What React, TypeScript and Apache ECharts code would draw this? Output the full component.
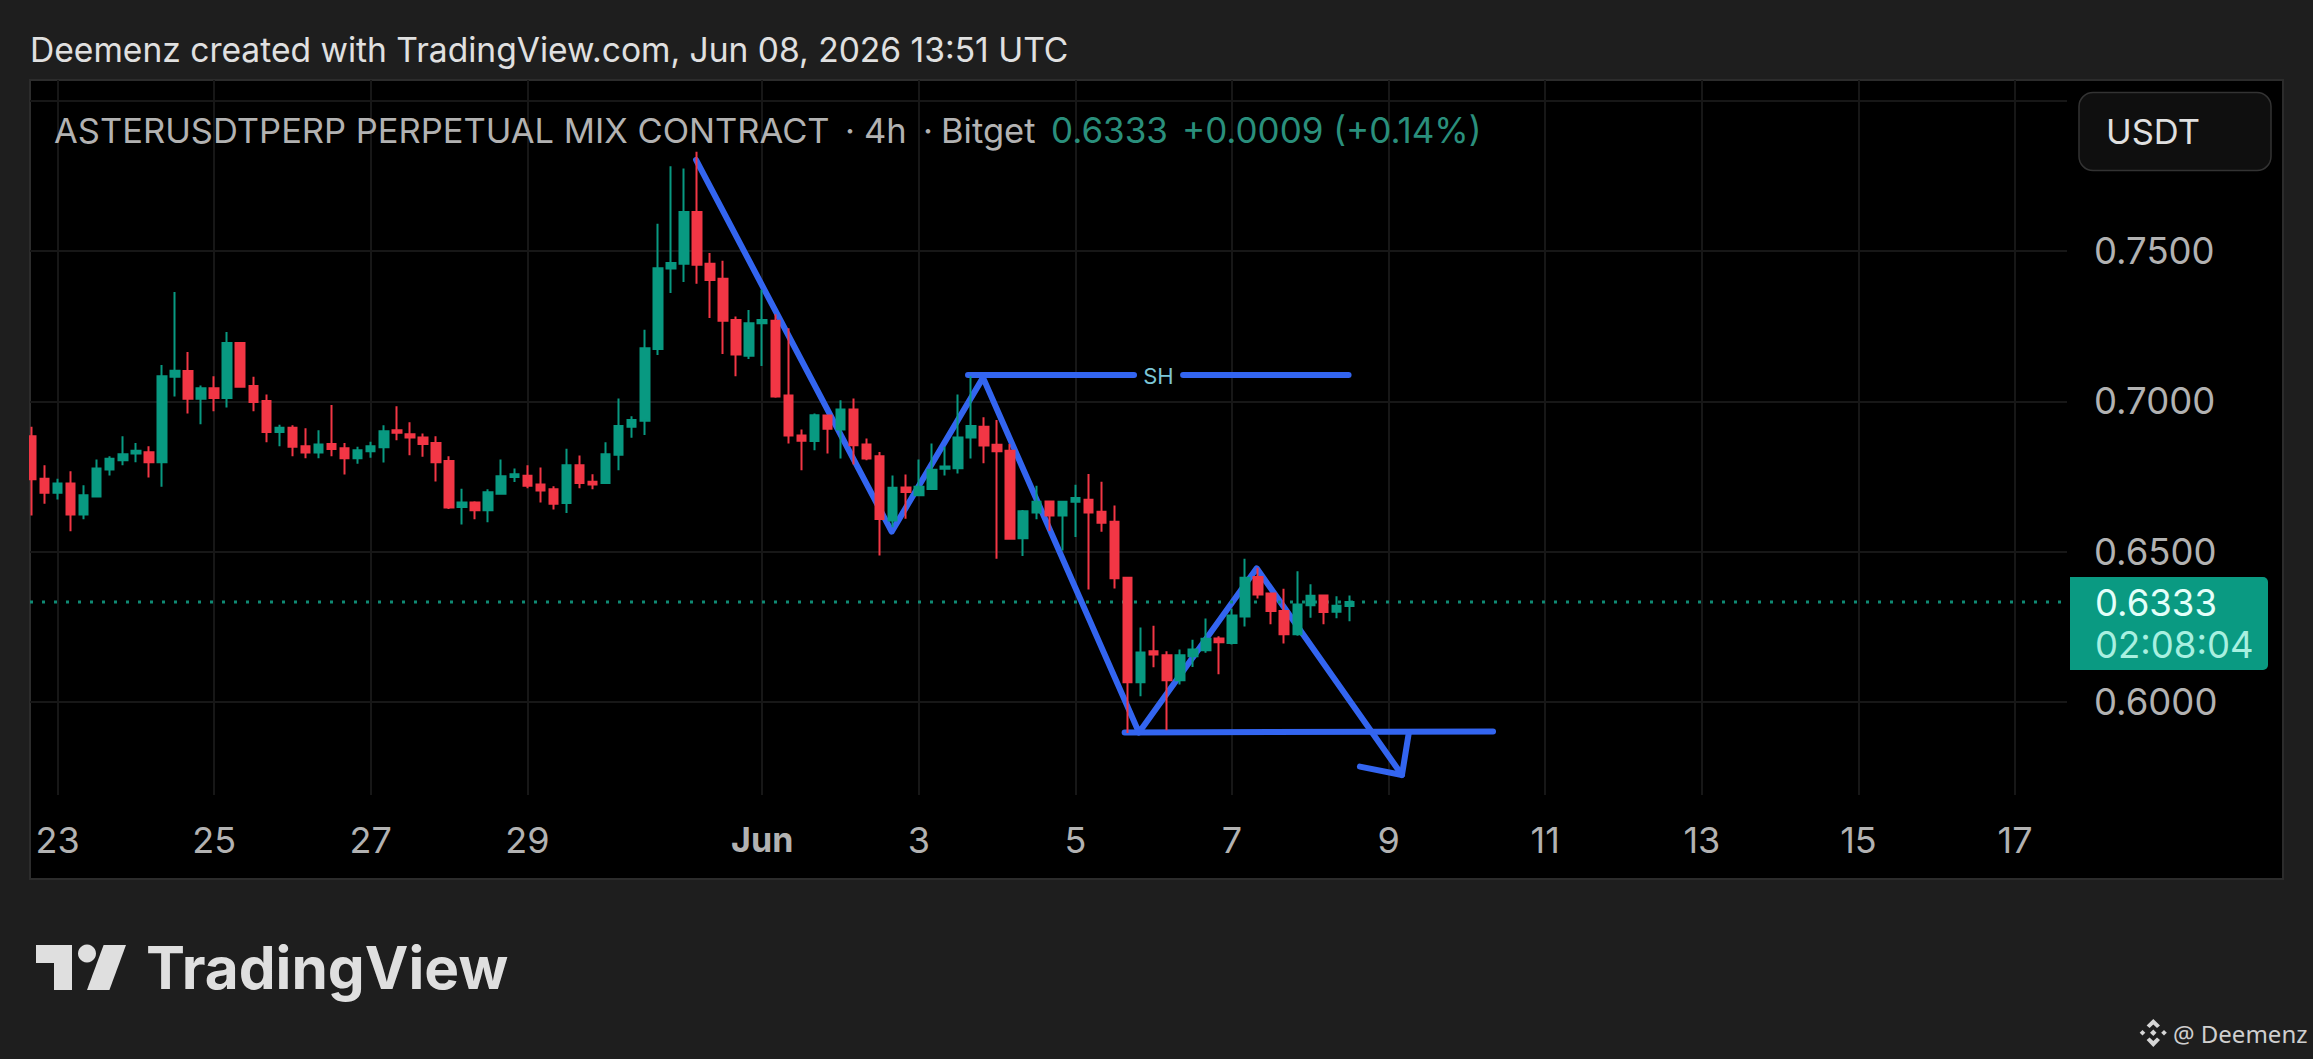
import React, { useEffect, useRef } from "react";
import * as echarts from "echarts";

const opens = [
  0.6884, 0.6743, 0.6696, 0.6727, 0.6624, 0.6684, 0.6774, 0.6804, 0.6827, 0.6831,
  0.6798, 0.7082, 0.7101, 0.7009, 0.7044, 0.7011, 0.7194, 0.7051, 0.7001, 0.6898,
  0.6912, 0.6851, 0.683, 0.6858, 0.6844, 0.6811, 0.6834, 0.6848, 0.6904, 0.6891,
  0.688, 0.6862, 0.6802, 0.6649, 0.6664, 0.6638, 0.6693, 0.6749, 0.6753, 0.6724,
  0.6708, 0.6662, 0.6788, 0.6733, 0.6729, 0.6823, 0.6916, 0.6936, 0.7174, 0.7442,
  0.7458, 0.763, 0.7458, 0.7408, 0.7271, 0.7152, 0.726, 0.7268, 0.702, 0.6887,
  0.6868, 0.6953, 0.6907, 0.6973, 0.6857, 0.6818, 0.6604, 0.6714, 0.6688, 0.6709,
  0.6776, 0.6778, 0.688, 0.6916, 0.6856, 0.6836, 0.6545, 0.6631, 0.6667, 0.6621,
  0.6666, 0.6673, 0.6633, 0.66, 0.6414, 0.6066, 0.6169, 0.6156, 0.6073, 0.6153,
  0.6173, 0.6212, 0.6197, 0.6285, 0.6416, 0.6361, 0.6303, 0.6226, 0.6322, 0.6355,
  0.6301, 0.632,
];
const closes = [
  0.6741, 0.6696, 0.6727, 0.6624, 0.6688, 0.6777, 0.6809, 0.6824, 0.6836, 0.6798,
  0.7084, 0.7102, 0.7009, 0.7044, 0.7011, 0.7194, 0.7049, 0.6998, 0.6898, 0.6912,
  0.6849, 0.683, 0.6857, 0.6842, 0.6811, 0.6838, 0.6851, 0.6901, 0.6896, 0.688,
  0.6858, 0.6798, 0.6647, 0.6664, 0.6638, 0.6698, 0.6751, 0.6758, 0.672, 0.6704,
  0.666, 0.6788, 0.6729, 0.6724, 0.6824, 0.6918, 0.6938, 0.7177, 0.7443, 0.746,
  0.763, 0.7454, 0.7404, 0.7268, 0.7156, 0.726, 0.7271, 0.7016, 0.6887, 0.6869,
  0.6954, 0.6909, 0.6973, 0.6854, 0.681, 0.6609, 0.6713, 0.6699, 0.6716, 0.6773,
  0.6784, 0.688, 0.6918, 0.6853, 0.6834, 0.6543, 0.6635, 0.6666, 0.6621, 0.6666,
  0.6679, 0.6631, 0.6597, 0.6412, 0.6066, 0.6165, 0.6159, 0.6073, 0.6156, 0.6175,
  0.6211, 0.6199, 0.6288, 0.6414, 0.6358, 0.6303, 0.6226, 0.6325, 0.6354, 0.63,
  0.6321, 0.6333,
];
const lows = [
  0.6621, 0.666, 0.6674, 0.6568, 0.6608, 0.6682, 0.6754, 0.6788, 0.6798, 0.6747,
  0.6716, 0.7016, 0.696, 0.6924, 0.6967, 0.698, 0.7049, 0.6967, 0.6864, 0.6851,
  0.6818, 0.6811, 0.6811, 0.6818, 0.6757, 0.6793, 0.6813, 0.6797, 0.6871, 0.6821,
  0.6816, 0.6734, 0.6642, 0.6591, 0.6608, 0.6598, 0.6691, 0.6732, 0.6711, 0.6664,
  0.6641, 0.6629, 0.6711, 0.6708, 0.6727, 0.6771, 0.6879, 0.6888, 0.7154, 0.736,
  0.7397, 0.7391, 0.7277, 0.7158, 0.7084, 0.7141, 0.7118, 0.7012, 0.686, 0.6771,
  0.6838, 0.6827, 0.681, 0.679, 0.6804, 0.6488, 0.6582, 0.661, 0.6688, 0.6709,
  0.6754, 0.676, 0.681, 0.6794, 0.6477, 0.6541, 0.6486, 0.6608, 0.6569, 0.6504,
  0.6549, 0.6375, 0.6567, 0.6378, 0.5898, 0.602, 0.6116, 0.5907, 0.6059, 0.6117,
  0.6164, 0.6093, 0.6192, 0.6252, 0.6345, 0.6259, 0.6195, 0.6221, 0.6281, 0.6259,
  0.6279, 0.6269,
];
const highs = [
  0.6916, 0.6788, 0.6743, 0.6768, 0.6721, 0.6807, 0.6818, 0.6884, 0.6862, 0.6851,
  0.7121, 0.7364, 0.7164, 0.7053, 0.7084, 0.7231, 0.7194, 0.7082, 0.7023, 0.6922,
  0.6921, 0.6911, 0.6904, 0.6988, 0.6862, 0.6849, 0.6866, 0.6921, 0.6984, 0.6931,
  0.6893, 0.6884, 0.6818, 0.671, 0.6668, 0.6708, 0.6807, 0.6777, 0.6788, 0.678,
  0.6718, 0.6843, 0.682, 0.6758, 0.6864, 0.701, 0.6951, 0.7238, 0.7591, 0.7782,
  0.7774, 0.783, 0.7493, 0.7468, 0.7282, 0.7304, 0.7371, 0.729, 0.7243, 0.6907,
  0.696, 0.6954, 0.7004, 0.701, 0.6877, 0.6832, 0.6754, 0.6757, 0.6807, 0.686,
  0.6849, 0.7023, 0.7084, 0.6947, 0.6938, 0.6858, 0.6639, 0.672, 0.667, 0.6666,
  0.6723, 0.6759, 0.6733, 0.6654, 0.6414, 0.6248, 0.6254, 0.6169, 0.6175, 0.6208,
  0.6278, 0.6219, 0.6311, 0.6477, 0.6447, 0.6363, 0.6377, 0.6435, 0.6392, 0.6357,
  0.6352, 0.6355,
];

const tickSlots = [2, 14, 26, 38, 56, 68, 80, 92, 104, 116, 128, 140, 152];
const tickLabels = ["23", "25", "27", "29", "Jun", "3", "5", "7", "9", "11", "13", "15", "17"];
const priceTicks = [0.6, 0.65, 0.7, 0.75, 0.8];
const priceLabels = [0.6, 0.65, 0.7, 0.75];
const lastPrice = 0.6333;
const priceMin = 0.56915;
const priceMax = 0.80685;
const slotCount = 157;
const slotMin = -0.107;
const slotMax = 155.98;

// drawings: [candle slot, price]
const zigzag = [[50.93, 0.7803], [65.92, 0.6567], [72.92, 0.7079], [84.87, 0.5899], [93.89, 0.6445], [105.02, 0.5758]];
const arrowHead = [[101.8, 0.5786], [105.02, 0.5758], [105.55, 0.5899]];
const shLeft = [[71.77, 0.7088], [84.49, 0.7088]];
const shRight = [[88.25, 0.7088], [100.93, 0.7088]];
const floorLine = [[83.77, 0.5899], [112.0, 0.5903]];

const GREEN = "#089981";
const RED = "#f23645";
const BLUE = "#3365f0";
const GRID = "#171717";
const PAGE = "#1e1e1e";
const FONT = "Inter, sans-serif";

const categories = Array.from({ length: slotCount }, (_, i) => "slot " + i);
const candles = opens.map((o, i) => [o, closes[i], lows[i], highs[i]]);

const lineSeries = (name: string, data: number[][]) => ({
  name,
  type: "line",
  xAxisIndex: 1,
  yAxisIndex: 1,
  data,
  z: 1,
  symbol: "none",
  silent: true,
  lineStyle: { color: BLUE, width: 6, cap: "round", join: "round" },
});

const txt = (text: string, x: number, y: number, fill: string, size: number, extra: any = {}) => ({
  type: "text",
  z: 30,
  silent: true,
  style: { text, x, y, fill, font: `${extra.weight || 400} ${size}px ${extra.family || FONT}`, verticalAlign: "middle", textVerticalAlign: "middle", align: extra.align || "left", textAlign: extra.align || "left" },
});

export default function App() {
  const ref = useRef<HTMLDivElement>(null);
  useEffect(() => {
    document.body.style.margin = "0";
    document.body.style.background = PAGE;
    const chart = echarts.init(ref.current!, undefined, { renderer: "svg" });
    chart.setOption({
      animation: false,
      backgroundColor: PAGE,
      textStyle: { fontFamily: FONT },
      grid: [
        { left: 24.9, top: 80, width: 2048.85, height: 715, containLabel: false },
        { left: 30, top: 80, width: 2037, height: 715, containLabel: false },
      ],
      xAxis: [
        {
          type: "category",
          gridIndex: 0,
          data: categories,
          boundaryGap: true,
          axisLine: { show: false },
          axisTick: { show: false, alignWithLabel: true, interval: (i: number) => tickSlots.includes(i) },
          splitLine: { show: true, alignWithLabel: true, interval: (i: number) => tickSlots.includes(i), lineStyle: { color: GRID, width: 2 } },
          axisLabel: {
            interval: (i: number) => tickSlots.includes(i),
            color: "#b2b2b2",
            fontFamily: FONT,
            fontSize: 36,
            margin: 27,
            formatter: (_: string, i: number) => {
              const k = tickSlots.indexOf(i);
              const t = k >= 0 ? tickLabels[k] : "";
              return t === "Jun" ? "{b|Jun}" : t;
            },
            rich: { b: { fontWeight: 700, fontSize: 34, color: "#b2b2b2", fontFamily: FONT } },
          },
        },
        { type: "value", gridIndex: 1, min: slotMin, max: slotMax, show: false, splitLine: { show: false } },
      ],
      yAxis: [
        { type: "value", gridIndex: 0, min: priceMin, max: priceMax, show: false, splitLine: { show: false } },
        {
          type: "value",
          gridIndex: 1,
          min: priceMin,
          max: priceMax,
          position: "right",
          axisLine: { show: false },
          axisTick: { show: false, customValues: priceTicks },
          splitLine: { show: true, lineStyle: { color: GRID, width: 2 } },
          axisLabel: {
            customValues: priceLabels,
            color: "#b2b2b2",
            fontFamily: FONT,
            fontSize: 36.5,
            margin: 27,
            formatter: (v: number) => v.toFixed(4),
          },
        },
      ],
      series: [
        lineSeries("Zigzag", zigzag),
        lineSeries("Arrow head", arrowHead),
        lineSeries("SH left", shLeft),
        lineSeries("SH right", shRight),
        lineSeries("Floor", floorLine),
        {
          name: "Last price",
          type: "line",
          xAxisIndex: 1,
          yAxisIndex: 1,
          z: 1,
          symbol: "none",
          silent: true,
          data: [[slotMin, lastPrice], [slotMax - 0.4, lastPrice]],
          lineStyle: { color: "#0f8a74", width: 3, type: [3, 9] },
        },
        {
          name: "ASTERUSDTPERP",
          type: "candlestick",
          xAxisIndex: 0,
          yAxisIndex: 0,
          z: 3,
          barWidth: 9,
          data: candles,
          itemStyle: { color: GREEN, color0: RED, borderColor: GREEN, borderColor0: RED, borderWidth: 2 },
        },
      ],
      graphic: {
        elements: [
          { type: "rect", z: -1, silent: true, shape: { x: 30, y: 80, width: 2253, height: 799 }, style: { fill: "#000", stroke: "#2c2c2c", lineWidth: 2 } },
          { type: "rect", z: 20, silent: true, shape: { x: 0, y: 80, width: 29, height: 800 }, style: { fill: PAGE } },
          txt("Deemenz created with TradingView.com, Jun 08, 2026 13:51 UTC", 30, 49, "#e0e0e0", 33.6),
          txt("ASTERUSDTPERP PERPETUAL MIX CONTRACT", 54, 130, "#b2b2b2", 34.5),
          txt("·", 845, 130, "#b2b2b2", 34.5),
          txt("4h", 864, 130, "#b2b2b2", 34.5),
          txt("·", 923, 130, "#b2b2b2", 34.5),
          txt("Bitget", 941, 130, "#b2b2b2", 34.5),
          txt("0.6333", 1051, 130, "#2a8f7c", 35),
          txt("+0.0009 (+0.14%)", 1182, 130, "#2a8f7c", 35),
          { type: "rect", z: 20, silent: true, shape: { x: 2079, y: 92.5, width: 192, height: 78, r: 14 }, style: { fill: "#0f0f0f", stroke: "#333", lineWidth: 1.5 } },
          txt("USDT", 2106, 131, "#e0e0e0", 34.5),
          { type: "rect", z: 20, silent: true, shape: { x: 2070, y: 577, width: 198, height: 93, r: [0, 5, 5, 0] }, style: { fill: "#0a9a82" } },
          txt(lastPrice.toFixed(4), 2095, 602.5, "#e4fff9", 36.5),
          txt("02:08:04", 2095, 644.5, "#a8f0e0", 36.5),
          txt("SH", 1158.4, 376, "#7cc6d6", 22, { align: "center" }),
          { type: "polygon", z: 30, silent: true, shape: { points: [[36, 945], [72, 945], [72, 990], [54, 990], [54, 963], [36, 963]] }, style: { fill: "#dfdfdf" } },
          { type: "circle", z: 30, silent: true, shape: { cx: 87, cy: 953.5, r: 9 }, style: { fill: "#dfdfdf" } },
          { type: "polygon", z: 30, silent: true, shape: { points: [[103.6, 945], [126, 945], [109.4, 990], [87, 990]] }, style: { fill: "#dfdfdf" } },
          txt("TradingView", 146, 967, "#dfdfdf", 58.5, { weight: 700 }),
          { type: "polygon", z: 30, silent: true, shape: { points: [[2153.3, 1019], [2160, 1025.5], [2157, 1028], [2153.3, 1024.5], [2149.6, 1028], [2146.6, 1025.5]] }, style: { fill: "#d6d6d6" } },
          { type: "polygon", z: 30, silent: true, shape: { points: [[2153.3, 1047], [2160, 1040], [2157, 1037.5], [2153.3, 1041], [2149.6, 1037.5], [2146.6, 1040]] }, style: { fill: "#d6d6d6" } },
          { type: "polygon", z: 30, silent: true, shape: { points: [[2153.3, 1029.5], [2156.5, 1032.7], [2153.3, 1036], [2150, 1032.7]] }, style: { fill: "#d6d6d6" } },
          { type: "polygon", z: 30, silent: true, shape: { points: [[2142.5, 1030], [2145.3, 1032.7], [2142.5, 1035.5], [2139.7, 1032.7]] }, style: { fill: "#d6d6d6" } },
          { type: "polygon", z: 30, silent: true, shape: { points: [[2164, 1030], [2166.8, 1032.7], [2164, 1035.5], [2161.2, 1032.7]] }, style: { fill: "#d6d6d6" } },
          txt("@ Deemenz", 2173, 1033, "#cfcfcf", 24, { family: "'Noto Sans', sans-serif" }),
        ],
      },
    });
    return () => chart.dispose();
  }, []);
  return <div ref={ref} style={{ width: 2313, height: 1059 }} />;
}
